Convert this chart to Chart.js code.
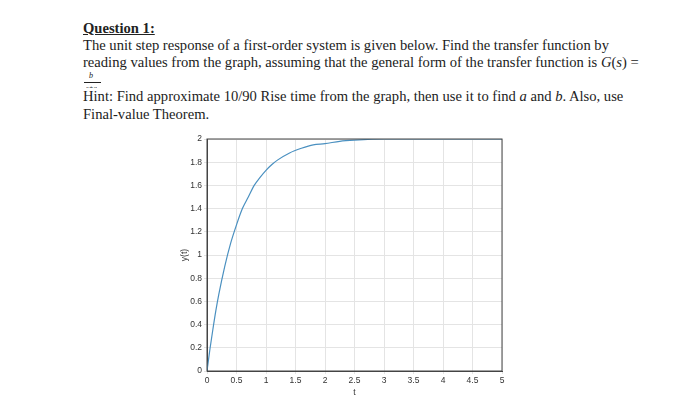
<!DOCTYPE html>
<html><head><meta charset="utf-8">
<script src="https://cdn.jsdelivr.net/npm/chart.js@4"></script>
<style>
body{margin:0;background:#fff;width:700px;height:404px;position:relative;overflow:hidden;font-family:"Liberation Serif","Times New Roman",serif;color:#222}
.t{position:absolute;left:83px;font-size:14.6px;white-space:nowrap}
#wrap{position:absolute;left:160px;top:128px;width:350px;height:270px}
</style></head><body>
<div class="t" style="top:20px;font-weight:bold;text-decoration:underline">Question 1:</div>
<div class="t" style="top:37px">The unit step response of a first-order system is given below. Find the transfer function by</div>
<div class="t" style="top:54px">reading values from the graph, assuming that the general form of the transfer function is <i>G</i>(<i>s</i>) =</div>
<div class="t" style="top:71px;font-size:8px;left:89px"><i>b</i></div>
<div style="position:absolute;left:84px;top:82px;width:17px;border-top:1px solid #222"></div>
<div class="t" style="top:84px;font-size:7px;left:86px;height:4px;overflow:hidden"><i>s+a</i></div>
<div class="t" style="top:88px">Hint: Find approximate 10/90 Rise time from the graph, then use it to find <i>a</i> and <i>b</i>. Also, use</div>
<div class="t" style="top:106px">Final-value Theorem.</div>
<div id="wrap"><canvas id="c"></canvas></div>
<script>
const tVals=[0,0.05,0.1,0.15,0.2,0.3,0.4,0.5,0.6,0.7,0.8,0.9,1,1.1,1.2,1.4,1.6,1.8,2,2.25,2.5,3,3.5,4,4.5,5];
const yVals=[0,0.19,0.36,0.52,0.66,0.9,1.1,1.26,1.4,1.5,1.6,1.67,1.73,1.78,1.82,1.88,1.92,1.95,1.96,1.98,1.99,2,2,2,2,2];
const xTicks=[0,0.5,1,1.5,2,2.5,3,3.5,4,4.5,5];
const yTicks=[0,0.2,0.4,0.6,0.8,1,1.2,1.4,1.6,1.8,2];
const box={id:'box',afterDraw(c){const a=c.chartArea,x=c.ctx;x.save();x.strokeStyle='#444';x.lineWidth=1;x.strokeRect(a.left,a.top,a.right-a.left,a.bottom-a.top);x.restore();}};
const f={size:8.5,family:'Liberation Sans'};
new Chart(document.getElementById('c'),{type:'line',
data:{datasets:[{data:tVals.map((t,i)=>({x:t,y:yVals[i]})),borderColor:'#4a90c0',borderWidth:1.2,pointRadius:0,cubicInterpolationMode:'monotone',fill:false}]},
options:{responsive:true,maintainAspectRatio:false,animation:false,layout:{padding:{top:11,right:8,left:20}},
plugins:{legend:{display:false},tooltip:{enabled:false}},
scales:{
x:{type:'linear',min:0,max:5,afterBuildTicks:s=>{s.ticks=xTicks.map(v=>({value:v}))},afterFit:s=>{s.height=27},
 grid:{color:'#e4e4e4',tickLength:3},border:{color:'#444'},
 ticks:{color:'#333',font:f,padding:2,maxRotation:0,callback:v=>String(v)},
 title:{display:true,text:'t',color:'#333',font:f,padding:0}},
y:{min:0,max:2,afterBuildTicks:s=>{s.ticks=yTicks.map(v=>({value:v}))},afterFit:s=>{s.width=27},
 grid:{color:'#e4e4e4',tickLength:3},border:{color:'#444'},
 ticks:{color:'#333',font:f,padding:2,callback:v=>String(Math.round(v*10)/10)},
 title:{display:true,text:'y(t)',color:'#333',font:f,padding:0}}}},
plugins:[box]});
</script></body></html>
